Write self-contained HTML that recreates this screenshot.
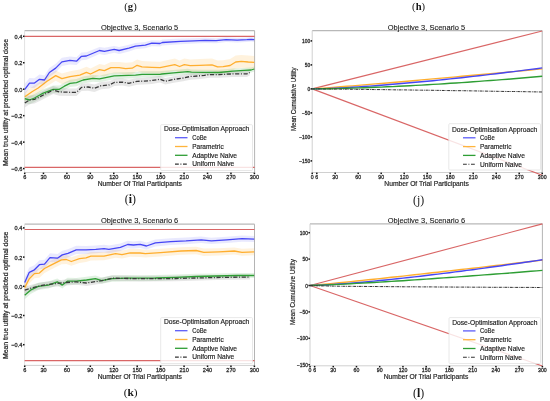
<!DOCTYPE html>
<html><head><meta charset="utf-8"><style>
html,body{margin:0;padding:0;background:#fff;width:550px;height:401px;overflow:hidden}
svg{display:block;will-change:transform}
</style></head><body>
<svg width="550" height="401" viewBox="0 0 550 401">
<rect width="550" height="401" fill="white"/>
<text x="130.5" y="10.2" font-size="10.6" text-anchor="middle" fill="#161616" font-family='"Liberation Serif", serif'>(<tspan font-weight="bold">g</tspan>)</text>
<text x="418.6" y="10.1" font-size="10.6" text-anchor="middle" fill="#161616" font-family='"Liberation Serif", serif'>(<tspan font-weight="bold">h</tspan>)</text>
<text x="130.4" y="203.3" font-size="11.8" text-anchor="middle" fill="#161616" font-family='"Liberation Serif", serif'>(<tspan font-weight="bold">i</tspan>)</text>
<text x="418.6" y="203.7" font-size="11.8" text-anchor="middle" fill="#161616" font-family='"Liberation Serif", serif'>(<tspan font-weight="normal">j</tspan>)</text>
<text x="130.6" y="396.3" font-size="11.4" text-anchor="middle" fill="#161616" font-family='"Liberation Serif", serif'>(<tspan font-weight="bold">k</tspan>)</text>
<text x="418.6" y="396.5" font-size="11.8" text-anchor="middle" fill="#161616" font-family='"Liberation Serif", serif'>(<tspan font-weight="bold">l</tspan>)</text>
<rect x="24.6" y="30.6" width="230.0" height="141.9" fill="white"/>
<line x1="24.6" y1="30.6" x2="254.6" y2="30.6" stroke="#b8b8b8" stroke-width="1.2"/>
<line x1="254.6" y1="30.6" x2="254.6" y2="172.5" stroke="#b4b4b4" stroke-width="1"/>
<line x1="24.6" y1="30.6" x2="24.6" y2="172.5" stroke="#e2e2e2" stroke-width="1"/>
<line x1="24.6" y1="172.5" x2="254.6" y2="172.5" stroke="#d0d0d0" stroke-width="1"/>
<line x1="24.6" y1="36.4" x2="254.6" y2="36.4" stroke="#d96666" stroke-width="1.15"/>
<line x1="24.6" y1="167.4" x2="254.6" y2="167.4" stroke="#d96666" stroke-width="1.15"/>
<polygon points="24.8,92.3 32.0,86.9 38.2,83.0 47.0,76.1 55.7,70.4 61.9,73.4 70.0,71.3 79.8,69.6 86.4,66.8 90.5,68.4 99.5,64.1 104.4,65.0 110.9,62.0 119.1,61.9 125.6,62.8 132.2,62.3 137.1,59.4 142.0,61.0 151.8,61.4 160.0,61.7 174.8,58.6 179.6,60.4 184.3,58.5 190.2,59.5 199.6,59.1 212.0,58.5 217.6,60.6 223.2,60.2 230.1,59.1 235.7,55.6 241.3,54.9 248.3,55.5 254.3,55.9 254.3,68.9 248.3,68.5 241.3,67.7 235.7,68.4 230.1,71.9 223.2,73.0 217.6,73.2 212.0,71.1 199.6,71.5 190.2,71.9 184.3,70.9 179.6,72.6 174.8,70.8 160.0,73.7 151.8,73.4 142.0,72.8 137.1,71.2 132.2,74.1 125.6,74.4 119.1,73.5 110.9,73.4 104.4,76.4 99.5,75.3 90.5,79.6 86.4,77.8 79.8,80.6 70.0,82.1 61.9,84.0 55.7,80.8 47.0,86.3 38.2,93.0 32.0,96.7 24.8,101.3" fill="#ffae2e" fill-opacity="0.16"/>
<polygon points="24.8,83.8 29.5,78.1 34.5,78.3 39.5,74.6 44.5,75.5 49.4,68.1 55.7,63.8 61.9,57.7 70.0,56.4 76.5,57.3 81.5,52.4 86.4,52.2 99.5,46.9 104.4,47.8 114.2,46.0 119.1,47.1 128.9,44.8 135.5,42.9 145.3,42.0 151.8,40.2 160.0,40.5 162.3,39.6 180.5,38.6 194.0,38.2 205.0,37.8 216.2,38.2 226.0,37.3 237.1,37.8 246.9,37.4 251.1,37.1 254.3,37.5 254.3,41.9 251.1,41.5 246.9,42.0 237.1,42.4 226.0,42.1 216.2,43.2 205.0,43.0 194.0,43.6 180.5,44.2 162.3,45.4 160.0,46.5 151.8,46.2 145.3,48.2 135.5,49.3 128.9,51.4 119.1,53.9 114.2,52.8 104.4,55.0 99.5,54.1 86.4,59.8 81.5,60.2 76.5,65.1 70.0,64.4 61.9,66.1 55.7,72.4 49.4,76.9 44.5,84.5 39.5,84.0 34.5,87.9 29.5,88.1 24.8,94.8" fill="#4646f5" fill-opacity="0.12"/>
<polygon points="24.8,94.2 29.5,95.8 34.5,93.9 42.0,89.7 53.2,85.5 59.4,85.6 64.4,82.5 70.0,79.7 76.5,79.0 83.1,76.5 92.9,75.0 99.5,75.5 114.2,72.6 135.5,72.0 142.0,71.2 160.0,71.3 161.8,71.0 173.6,69.9 187.8,68.8 191.4,69.4 203.2,69.7 219.0,69.8 232.9,68.5 244.1,67.9 251.1,67.5 254.3,66.5 254.3,71.5 251.1,72.5 244.1,72.9 232.9,73.7 219.0,75.2 203.2,75.1 191.4,75.0 187.8,74.4 173.6,75.7 161.8,77.0 160.0,77.3 142.0,77.4 135.5,78.2 114.2,79.2 99.5,82.3 92.9,81.8 83.1,83.5 76.5,86.2 70.0,86.9 64.4,89.9 59.4,93.0 53.2,93.1 42.0,97.7 34.5,102.1 29.5,104.2 24.8,103.2" fill="#2e9e34" fill-opacity="0.14"/>
<polygon points="24.8,98.5 29.5,95.7 34.5,95.2 40.7,92.2 53.2,86.0 59.4,88.0 70.0,88.5 76.5,88.5 81.5,83.7 88.0,83.3 94.5,84.5 101.1,82.1 109.3,81.3 114.2,78.9 122.4,78.6 128.9,79.8 137.1,77.9 143.6,77.8 151.8,77.1 160.0,75.9 165.4,78.0 173.6,76.2 183.1,74.8 190.2,73.3 197.3,72.8 204.4,72.2 209.1,71.5 219.0,71.5 232.9,70.8 246.9,70.9 249.7,69.5 249.7,75.5 246.9,76.9 232.9,77.0 219.0,77.7 209.1,77.7 204.4,78.6 197.3,79.2 190.2,79.7 183.1,81.2 173.6,82.8 165.4,84.6 160.0,82.5 151.8,83.9 143.6,84.6 137.1,84.7 128.9,86.8 122.4,85.6 114.2,86.1 109.3,88.5 101.1,89.3 94.5,91.9 88.0,90.7 81.5,91.1 76.5,96.1 70.0,96.1 59.4,95.8 53.2,94.0 40.7,100.4 34.5,103.6 29.5,104.3 24.8,107.5" fill="#888" fill-opacity="0.2"/>
<polyline points="24.8,96.8 32.0,91.8 38.2,88.0 47.0,81.2 55.7,75.6 61.9,78.7 70.0,76.7 79.8,75.1 86.4,72.3 90.5,74.0 99.5,69.7 104.4,70.7 110.9,67.7 119.1,67.7 125.6,68.6 132.2,68.2 137.1,65.3 142.0,66.9 151.8,67.4 160.0,67.7 174.8,64.7 179.6,66.5 184.3,64.7 190.2,65.7 199.6,65.3 212.0,64.8 217.6,66.9 223.2,66.6 230.1,65.5 235.7,62.0 241.3,61.3 248.3,62.0 254.3,62.4" fill="none" stroke="#ffae2e" stroke-width="1.3" stroke-linejoin="round"/>
<polyline points="24.8,98.7 29.5,100.0 34.5,98.0 42.0,93.7 53.2,89.3 59.4,89.3 64.4,86.2 70.0,83.3 76.5,82.6 83.1,80.0 92.9,78.4 99.5,78.9 114.2,75.9 135.5,75.1 142.0,74.3 160.0,74.3 161.8,74.0 173.6,72.8 187.8,71.6 191.4,72.2 203.2,72.4 219.0,72.5 232.9,71.1 244.1,70.4 251.1,70.0 254.3,69.0" fill="none" stroke="#2e9e34" stroke-width="1.3" stroke-linejoin="round"/>
<polyline points="24.8,103.0 29.5,100.0 34.5,99.4 40.7,96.3 53.2,90.0 59.4,91.9 70.0,92.3 76.5,92.3 81.5,87.4 88.0,87.0 94.5,88.2 101.1,85.7 109.3,84.9 114.2,82.5 122.4,82.1 128.9,83.3 137.1,81.3 143.6,81.2 151.8,80.5 160.0,79.2 165.4,81.3 173.6,79.5 183.1,78.0 190.2,76.5 197.3,76.0 204.4,75.4 209.1,74.6 219.0,74.6 232.9,73.9 246.9,73.9 249.7,72.5" fill="none" stroke="#3a3a3a" stroke-width="1.3" stroke-dasharray="4.2,1.6,1,1.6" stroke-linejoin="round"/>
<polyline points="24.8,89.3 29.5,83.1 34.5,83.1 39.5,79.3 44.5,80.0 49.4,72.5 55.7,68.1 61.9,61.9 70.0,60.4 76.5,61.2 81.5,56.3 86.4,56.0 99.5,50.5 104.4,51.4 114.2,49.4 119.1,50.5 128.9,48.1 135.5,46.1 145.3,45.1 151.8,43.2 160.0,43.5 162.3,42.5 180.5,41.4 194.0,40.9 205.0,40.4 216.2,40.7 226.0,39.7 237.1,40.1 246.9,39.7 251.1,39.3 254.3,39.7" fill="none" stroke="#4646f5" stroke-width="1.3" stroke-linejoin="round"/>
<rect x="160.7" y="124.7" width="91.80000000000001" height="45.8" fill="white" fill-opacity="0.82" stroke="#e2e2e2" stroke-width="0.8" rx="1"/>
<text x="206.6" y="131.4" font-size="6.8" text-anchor="middle" fill="#222" font-family='"Liberation Sans", sans-serif' font-weight="normal" stroke="#222" stroke-width="0.16" textLength="85.3" lengthAdjust="spacingAndGlyphs" >Dose-Optimisation Approach</text>
<line x1="175" y1="137.7" x2="187.5" y2="137.7" stroke="#5c5cf8" stroke-width="1.3"/>
<text x="192.2" y="140.0" font-size="6.8" text-anchor="start" fill="#222" font-family='"Liberation Sans", sans-serif' font-weight="normal" stroke="#222" stroke-width="0.16" textLength="14.7" lengthAdjust="spacingAndGlyphs" >CoBe</text>
<line x1="175" y1="146.5" x2="187.5" y2="146.5" stroke="#ffb43c" stroke-width="1.3"/>
<text x="192.2" y="148.8" font-size="6.8" text-anchor="start" fill="#222" font-family='"Liberation Sans", sans-serif' font-weight="normal" stroke="#222" stroke-width="0.16" textLength="31.5" lengthAdjust="spacingAndGlyphs" >Parametric</text>
<line x1="175" y1="155.29999999999998" x2="187.5" y2="155.29999999999998" stroke="#2e9e34" stroke-width="1.3"/>
<text x="192.2" y="157.6" font-size="6.8" text-anchor="start" fill="#222" font-family='"Liberation Sans", sans-serif' font-weight="normal" stroke="#222" stroke-width="0.16" textLength="44.9" lengthAdjust="spacingAndGlyphs" >Adaptive Naive</text>
<line x1="175" y1="164.1" x2="187.5" y2="164.1" stroke="#333" stroke-width="1.1" stroke-dasharray="3.8,1.6,1,1.6"/>
<text x="192.2" y="166.4" font-size="6.8" text-anchor="start" fill="#222" font-family='"Liberation Sans", sans-serif' font-weight="normal" stroke="#222" stroke-width="0.16" textLength="42" lengthAdjust="spacingAndGlyphs" >Uniform Naive</text>
<rect x="23.95" y="172.60" width="1.5" height="1.5" fill="#111"/>
<text x="24.7" y="178.9" font-size="5.6" text-anchor="middle" fill="#2a2a2a" font-family='"Liberation Sans", sans-serif' font-weight="normal" stroke="#2a2a2a" stroke-width="0.26" >6</text>
<rect x="42.70" y="172.60" width="1.5" height="1.5" fill="#111"/>
<text x="43.5" y="178.9" font-size="5.6" text-anchor="middle" fill="#2a2a2a" font-family='"Liberation Sans", sans-serif' font-weight="normal" stroke="#2a2a2a" stroke-width="0.26" >30</text>
<rect x="66.14" y="172.60" width="1.5" height="1.5" fill="#111"/>
<text x="66.9" y="178.9" font-size="5.6" text-anchor="middle" fill="#2a2a2a" font-family='"Liberation Sans", sans-serif' font-weight="normal" stroke="#2a2a2a" stroke-width="0.26" >60</text>
<rect x="89.58" y="172.60" width="1.5" height="1.5" fill="#111"/>
<text x="90.3" y="178.9" font-size="5.6" text-anchor="middle" fill="#2a2a2a" font-family='"Liberation Sans", sans-serif' font-weight="normal" stroke="#2a2a2a" stroke-width="0.26" >90</text>
<rect x="113.02" y="172.60" width="1.5" height="1.5" fill="#111"/>
<text x="113.8" y="178.9" font-size="5.6" text-anchor="middle" fill="#2a2a2a" font-family='"Liberation Sans", sans-serif' font-weight="normal" stroke="#2a2a2a" stroke-width="0.26" >120</text>
<rect x="136.46" y="172.60" width="1.5" height="1.5" fill="#111"/>
<text x="137.2" y="178.9" font-size="5.6" text-anchor="middle" fill="#2a2a2a" font-family='"Liberation Sans", sans-serif' font-weight="normal" stroke="#2a2a2a" stroke-width="0.26" >150</text>
<rect x="159.89" y="172.60" width="1.5" height="1.5" fill="#111"/>
<text x="160.6" y="178.9" font-size="5.6" text-anchor="middle" fill="#2a2a2a" font-family='"Liberation Sans", sans-serif' font-weight="normal" stroke="#2a2a2a" stroke-width="0.26" >180</text>
<rect x="183.33" y="172.60" width="1.5" height="1.5" fill="#111"/>
<text x="184.1" y="178.9" font-size="5.6" text-anchor="middle" fill="#2a2a2a" font-family='"Liberation Sans", sans-serif' font-weight="normal" stroke="#2a2a2a" stroke-width="0.26" >210</text>
<rect x="206.77" y="172.60" width="1.5" height="1.5" fill="#111"/>
<text x="207.5" y="178.9" font-size="5.6" text-anchor="middle" fill="#2a2a2a" font-family='"Liberation Sans", sans-serif' font-weight="normal" stroke="#2a2a2a" stroke-width="0.26" >240</text>
<rect x="230.21" y="172.60" width="1.5" height="1.5" fill="#111"/>
<text x="231.0" y="178.9" font-size="5.6" text-anchor="middle" fill="#2a2a2a" font-family='"Liberation Sans", sans-serif' font-weight="normal" stroke="#2a2a2a" stroke-width="0.26" >270</text>
<rect x="253.65" y="172.60" width="1.5" height="1.5" fill="#111"/>
<text x="254.4" y="178.9" font-size="5.6" text-anchor="middle" fill="#2a2a2a" font-family='"Liberation Sans", sans-serif' font-weight="normal" stroke="#2a2a2a" stroke-width="0.26" >300</text>
<rect x="23.00" y="35.53" width="1.5" height="1.5" fill="#111"/>
<text x="22.4" y="38.7" font-size="5.6" text-anchor="end" fill="#2a2a2a" font-family='"Liberation Sans", sans-serif' font-weight="normal" stroke="#2a2a2a" stroke-width="0.26" >0.4</text>
<rect x="23.00" y="61.99" width="1.5" height="1.5" fill="#111"/>
<text x="22.4" y="65.1" font-size="5.6" text-anchor="end" fill="#2a2a2a" font-family='"Liberation Sans", sans-serif' font-weight="normal" stroke="#2a2a2a" stroke-width="0.26" >0.2</text>
<rect x="23.00" y="88.45" width="1.5" height="1.5" fill="#111"/>
<text x="22.4" y="91.6" font-size="5.6" text-anchor="end" fill="#2a2a2a" font-family='"Liberation Sans", sans-serif' font-weight="normal" stroke="#2a2a2a" stroke-width="0.26" >0.0</text>
<rect x="23.00" y="114.91" width="1.5" height="1.5" fill="#111"/>
<text x="22.4" y="118.1" font-size="5.6" text-anchor="end" fill="#2a2a2a" font-family='"Liberation Sans", sans-serif' font-weight="normal" stroke="#2a2a2a" stroke-width="0.26" >−0.2</text>
<rect x="23.00" y="141.37" width="1.5" height="1.5" fill="#111"/>
<text x="22.4" y="144.5" font-size="5.6" text-anchor="end" fill="#2a2a2a" font-family='"Liberation Sans", sans-serif' font-weight="normal" stroke="#2a2a2a" stroke-width="0.26" >−0.4</text>
<rect x="23.00" y="167.83" width="1.5" height="1.5" fill="#111"/>
<text x="22.4" y="171.0" font-size="5.6" text-anchor="end" fill="#2a2a2a" font-family='"Liberation Sans", sans-serif' font-weight="normal" stroke="#2a2a2a" stroke-width="0.26" >−0.6</text>
<text x="139.6" y="29.5" font-size="8.0" text-anchor="middle" fill="#222" font-family='"Liberation Sans", sans-serif' font-weight="normal" stroke="#222" stroke-width="0.12" textLength="77.4" lengthAdjust="spacingAndGlyphs" >Objective 3, Scenario 5</text>
<text x="139.8" y="185.6" font-size="6.8" text-anchor="middle" fill="#222" font-family='"Liberation Sans", sans-serif' font-weight="normal" stroke="#222" stroke-width="0.18" textLength="84.2" lengthAdjust="spacingAndGlyphs" >Number Of Trial Participants</text>
<text x="0.0" y="0.0" font-size="6.5" text-anchor="middle" fill="#222" font-family='"Liberation Sans", sans-serif' font-weight="normal" stroke="#222" stroke-width="0.18" textLength="127" lengthAdjust="spacingAndGlyphs" transform="translate(7.6,102.5) rotate(-90)">Mean true utility at predicted optimal dose</text>
<rect x="24.6" y="224.2" width="229.9" height="141.2" fill="white"/>
<line x1="24.6" y1="224.2" x2="254.5" y2="224.2" stroke="#b8b8b8" stroke-width="1.2"/>
<line x1="254.5" y1="224.2" x2="254.5" y2="365.4" stroke="#b4b4b4" stroke-width="1"/>
<line x1="24.6" y1="224.2" x2="24.6" y2="365.4" stroke="#e2e2e2" stroke-width="1"/>
<line x1="24.6" y1="365.4" x2="254.5" y2="365.4" stroke="#d0d0d0" stroke-width="1"/>
<line x1="24.6" y1="229.5" x2="254.5" y2="229.5" stroke="#d96666" stroke-width="1.15"/>
<line x1="24.6" y1="360.6" x2="254.5" y2="360.6" stroke="#d96666" stroke-width="1.15"/>
<polygon points="24.7,282.6 29.3,273.9 34.4,268.9 39.4,268.5 44.5,263.9 50.0,261.1 61.5,255.4 66.4,255.1 71.3,257.2 79.5,254.4 86.0,253.7 90.9,252.0 104.0,252.1 115.5,249.5 122.0,250.6 130.2,248.8 140.0,249.1 145.3,249.7 160.5,248.8 180.9,247.2 196.2,246.8 203.8,248.6 219.0,248.2 234.3,247.4 242.0,248.8 254.2,248.3 254.2,255.3 242.0,255.8 234.3,254.6 219.0,255.4 203.8,256.0 196.2,254.2 180.9,254.8 160.5,256.4 145.3,257.5 140.0,256.9 130.2,256.8 122.0,258.6 115.5,257.7 104.0,260.3 90.9,260.4 86.0,262.1 79.5,263.0 71.3,265.8 66.4,263.9 61.5,264.2 50.0,270.1 44.5,273.1 39.4,277.7 34.4,278.3 29.3,283.5 24.7,292.6" fill="#ffae2e" fill-opacity="0.16"/>
<polygon points="24.7,277.5 29.3,267.6 34.4,265.2 39.4,260.2 44.5,259.8 50.0,253.3 57.4,254.0 62.3,250.7 68.0,249.2 76.2,245.8 86.0,245.9 95.8,245.5 104.0,244.8 108.9,245.6 120.4,243.6 127.7,240.8 133.5,241.4 140.2,240.8 146.5,242.5 155.4,239.4 170.7,238.2 186.0,237.6 201.2,236.6 211.4,237.7 226.7,236.7 242.0,235.5 254.2,236.1 254.2,242.1 242.0,241.7 226.7,242.9 211.4,244.1 201.2,243.0 186.0,244.2 170.7,245.0 155.4,246.4 146.5,249.5 140.2,248.0 133.5,248.6 127.7,248.2 120.4,251.0 108.9,253.2 104.0,252.4 95.8,253.3 86.0,253.9 76.2,254.0 68.0,257.4 62.3,259.1 57.4,262.4 50.0,261.9 44.5,268.6 39.4,269.2 34.4,274.4 29.3,277.0 24.7,287.5" fill="#4646f5" fill-opacity="0.12"/>
<polygon points="24.7,291.2 30.5,286.4 38.2,282.7 48.3,281.6 57.3,278.4 62.3,281.7 67.4,277.8 76.3,277.9 86.5,276.8 95.4,275.5 101.8,277.6 112.0,275.6 127.2,275.2 155.4,275.1 175.8,274.5 196.2,273.8 216.5,273.4 236.9,272.9 254.2,273.0 254.2,278.0 236.9,278.1 216.5,278.6 196.2,279.2 175.8,280.1 155.4,280.9 127.2,281.2 112.0,281.8 101.8,283.8 95.4,281.9 86.5,283.2 76.3,284.5 67.4,284.6 62.3,288.5 57.3,285.2 48.3,288.6 38.2,289.9 30.5,294.0 24.7,299.2" fill="#2e9e34" fill-opacity="0.14"/>
<polygon points="24.7,286.7 33.1,284.3 43.3,281.9 53.4,280.7 66.2,279.4 76.3,278.8 86.5,280.0 101.8,277.8 112.0,275.3 140.0,275.9 175.8,275.8 216.5,274.9 250.0,274.5 250.0,279.5 216.5,280.1 175.8,281.2 140.0,281.5 112.0,281.1 101.8,283.6 86.5,286.0 76.3,284.8 66.2,285.6 53.4,286.9 43.3,288.3 33.1,290.9 24.7,293.7" fill="#888" fill-opacity="0.2"/>
<polyline points="24.7,287.6 29.3,278.7 34.4,273.6 39.4,273.1 44.5,268.5 50.0,265.6 61.5,259.8 66.4,259.5 71.3,261.5 79.5,258.7 86.0,257.9 90.9,256.2 104.0,256.2 115.5,253.6 122.0,254.6 130.2,252.8 140.0,253.0 145.3,253.6 160.5,252.6 180.9,251.0 196.2,250.5 203.8,252.3 219.0,251.8 234.3,251.0 242.0,252.3 254.2,251.8" fill="none" stroke="#ffae2e" stroke-width="1.3" stroke-linejoin="round"/>
<polyline points="24.7,295.2 30.5,290.2 38.2,286.3 48.3,285.1 57.3,281.8 62.3,285.1 67.4,281.2 76.3,281.2 86.5,280.0 95.4,278.7 101.8,280.7 112.0,278.7 127.2,278.2 155.4,278.0 175.8,277.3 196.2,276.5 216.5,276.0 236.9,275.5 254.2,275.5" fill="none" stroke="#2e9e34" stroke-width="1.3" stroke-linejoin="round"/>
<polyline points="24.7,290.2 33.1,287.6 43.3,285.1 53.4,283.8 66.2,282.5 76.3,281.8 86.5,283.0 101.8,280.7 112.0,278.2 140.0,278.7 175.8,278.5 216.5,277.5 250.0,277.0" fill="none" stroke="#3a3a3a" stroke-width="1.3" stroke-dasharray="4.2,1.6,1,1.6" stroke-linejoin="round"/>
<polyline points="24.7,282.5 29.3,272.3 34.4,269.8 39.4,264.7 44.5,264.2 50.0,257.6 57.4,258.2 62.3,254.9 68.0,253.3 76.2,249.9 86.0,249.9 95.8,249.4 104.0,248.6 108.9,249.4 120.4,247.3 127.7,244.5 133.5,245.0 140.2,244.4 146.5,246.0 155.4,242.9 170.7,241.6 186.0,240.9 201.2,239.8 211.4,240.9 226.7,239.8 242.0,238.6 254.2,239.1" fill="none" stroke="#4646f5" stroke-width="1.3" stroke-linejoin="round"/>
<rect x="160.7" y="317.6" width="91.80000000000001" height="45.89999999999998" fill="white" fill-opacity="0.82" stroke="#e2e2e2" stroke-width="0.8" rx="1"/>
<text x="206.6" y="324.4" font-size="6.8" text-anchor="middle" fill="#222" font-family='"Liberation Sans", sans-serif' font-weight="normal" stroke="#222" stroke-width="0.16" textLength="85.3" lengthAdjust="spacingAndGlyphs" >Dose-Optimisation Approach</text>
<line x1="175" y1="330.7" x2="187.5" y2="330.7" stroke="#5c5cf8" stroke-width="1.3"/>
<text x="192.2" y="333.0" font-size="6.8" text-anchor="start" fill="#222" font-family='"Liberation Sans", sans-serif' font-weight="normal" stroke="#222" stroke-width="0.16" textLength="14.7" lengthAdjust="spacingAndGlyphs" >CoBe</text>
<line x1="175" y1="339.5" x2="187.5" y2="339.5" stroke="#ffb43c" stroke-width="1.3"/>
<text x="192.2" y="341.8" font-size="6.8" text-anchor="start" fill="#222" font-family='"Liberation Sans", sans-serif' font-weight="normal" stroke="#222" stroke-width="0.16" textLength="31.5" lengthAdjust="spacingAndGlyphs" >Parametric</text>
<line x1="175" y1="348.3" x2="187.5" y2="348.3" stroke="#2e9e34" stroke-width="1.3"/>
<text x="192.2" y="350.6" font-size="6.8" text-anchor="start" fill="#222" font-family='"Liberation Sans", sans-serif' font-weight="normal" stroke="#222" stroke-width="0.16" textLength="44.9" lengthAdjust="spacingAndGlyphs" >Adaptive Naive</text>
<line x1="175" y1="357.09999999999997" x2="187.5" y2="357.09999999999997" stroke="#333" stroke-width="1.1" stroke-dasharray="3.8,1.6,1,1.6"/>
<text x="192.2" y="359.4" font-size="6.8" text-anchor="start" fill="#222" font-family='"Liberation Sans", sans-serif' font-weight="normal" stroke="#222" stroke-width="0.16" textLength="42" lengthAdjust="spacingAndGlyphs" >Uniform Naive</text>
<rect x="23.95" y="365.50" width="1.5" height="1.5" fill="#111"/>
<text x="24.7" y="371.8" font-size="5.6" text-anchor="middle" fill="#2a2a2a" font-family='"Liberation Sans", sans-serif' font-weight="normal" stroke="#2a2a2a" stroke-width="0.26" >6</text>
<rect x="42.70" y="365.50" width="1.5" height="1.5" fill="#111"/>
<text x="43.5" y="371.8" font-size="5.6" text-anchor="middle" fill="#2a2a2a" font-family='"Liberation Sans", sans-serif' font-weight="normal" stroke="#2a2a2a" stroke-width="0.26" >30</text>
<rect x="66.14" y="365.50" width="1.5" height="1.5" fill="#111"/>
<text x="66.9" y="371.8" font-size="5.6" text-anchor="middle" fill="#2a2a2a" font-family='"Liberation Sans", sans-serif' font-weight="normal" stroke="#2a2a2a" stroke-width="0.26" >60</text>
<rect x="89.58" y="365.50" width="1.5" height="1.5" fill="#111"/>
<text x="90.3" y="371.8" font-size="5.6" text-anchor="middle" fill="#2a2a2a" font-family='"Liberation Sans", sans-serif' font-weight="normal" stroke="#2a2a2a" stroke-width="0.26" >90</text>
<rect x="113.02" y="365.50" width="1.5" height="1.5" fill="#111"/>
<text x="113.8" y="371.8" font-size="5.6" text-anchor="middle" fill="#2a2a2a" font-family='"Liberation Sans", sans-serif' font-weight="normal" stroke="#2a2a2a" stroke-width="0.26" >120</text>
<rect x="136.46" y="365.50" width="1.5" height="1.5" fill="#111"/>
<text x="137.2" y="371.8" font-size="5.6" text-anchor="middle" fill="#2a2a2a" font-family='"Liberation Sans", sans-serif' font-weight="normal" stroke="#2a2a2a" stroke-width="0.26" >150</text>
<rect x="159.89" y="365.50" width="1.5" height="1.5" fill="#111"/>
<text x="160.6" y="371.8" font-size="5.6" text-anchor="middle" fill="#2a2a2a" font-family='"Liberation Sans", sans-serif' font-weight="normal" stroke="#2a2a2a" stroke-width="0.26" >180</text>
<rect x="183.33" y="365.50" width="1.5" height="1.5" fill="#111"/>
<text x="184.1" y="371.8" font-size="5.6" text-anchor="middle" fill="#2a2a2a" font-family='"Liberation Sans", sans-serif' font-weight="normal" stroke="#2a2a2a" stroke-width="0.26" >210</text>
<rect x="206.77" y="365.50" width="1.5" height="1.5" fill="#111"/>
<text x="207.5" y="371.8" font-size="5.6" text-anchor="middle" fill="#2a2a2a" font-family='"Liberation Sans", sans-serif' font-weight="normal" stroke="#2a2a2a" stroke-width="0.26" >240</text>
<rect x="230.21" y="365.50" width="1.5" height="1.5" fill="#111"/>
<text x="231.0" y="371.8" font-size="5.6" text-anchor="middle" fill="#2a2a2a" font-family='"Liberation Sans", sans-serif' font-weight="normal" stroke="#2a2a2a" stroke-width="0.26" >270</text>
<rect x="253.65" y="365.50" width="1.5" height="1.5" fill="#111"/>
<text x="254.4" y="371.8" font-size="5.6" text-anchor="middle" fill="#2a2a2a" font-family='"Liberation Sans", sans-serif' font-weight="normal" stroke="#2a2a2a" stroke-width="0.26" >300</text>
<rect x="23.00" y="227.15" width="1.5" height="1.5" fill="#111"/>
<text x="22.4" y="230.3" font-size="5.6" text-anchor="end" fill="#2a2a2a" font-family='"Liberation Sans", sans-serif' font-weight="normal" stroke="#2a2a2a" stroke-width="0.26" >0.4</text>
<rect x="23.00" y="256.35" width="1.5" height="1.5" fill="#111"/>
<text x="22.4" y="259.5" font-size="5.6" text-anchor="end" fill="#2a2a2a" font-family='"Liberation Sans", sans-serif' font-weight="normal" stroke="#2a2a2a" stroke-width="0.26" >0.2</text>
<rect x="23.00" y="285.55" width="1.5" height="1.5" fill="#111"/>
<text x="22.4" y="288.7" font-size="5.6" text-anchor="end" fill="#2a2a2a" font-family='"Liberation Sans", sans-serif' font-weight="normal" stroke="#2a2a2a" stroke-width="0.26" >0.0</text>
<rect x="23.00" y="314.75" width="1.5" height="1.5" fill="#111"/>
<text x="22.4" y="317.9" font-size="5.6" text-anchor="end" fill="#2a2a2a" font-family='"Liberation Sans", sans-serif' font-weight="normal" stroke="#2a2a2a" stroke-width="0.26" >−0.2</text>
<rect x="23.00" y="343.95" width="1.5" height="1.5" fill="#111"/>
<text x="22.4" y="347.1" font-size="5.6" text-anchor="end" fill="#2a2a2a" font-family='"Liberation Sans", sans-serif' font-weight="normal" stroke="#2a2a2a" stroke-width="0.26" >−0.4</text>
<text x="139.6" y="222.5" font-size="8.0" text-anchor="middle" fill="#222" font-family='"Liberation Sans", sans-serif' font-weight="normal" stroke="#222" stroke-width="0.12" textLength="77.4" lengthAdjust="spacingAndGlyphs" >Objective 3, Scenario 6</text>
<text x="139.8" y="378.6" font-size="6.8" text-anchor="middle" fill="#222" font-family='"Liberation Sans", sans-serif' font-weight="normal" stroke="#222" stroke-width="0.18" textLength="84.2" lengthAdjust="spacingAndGlyphs" >Number Of Trial Participants</text>
<text x="0.0" y="0.0" font-size="6.5" text-anchor="middle" fill="#222" font-family='"Liberation Sans", sans-serif' font-weight="normal" stroke="#222" stroke-width="0.18" textLength="127.5" lengthAdjust="spacingAndGlyphs" transform="translate(7.6,295.3) rotate(-90)">Mean true utility at predicted optimal dose</text>
<rect x="312.2" y="30.7" width="230.00000000000006" height="141.8" fill="white"/>
<line x1="312.2" y1="30.7" x2="542.2" y2="30.7" stroke="#b8b8b8" stroke-width="1.2"/>
<line x1="542.2" y1="30.7" x2="542.2" y2="172.5" stroke="#b4b4b4" stroke-width="1"/>
<line x1="312.2" y1="30.7" x2="312.2" y2="172.5" stroke="#d0d0d0" stroke-width="1"/>
<line x1="312.2" y1="172.5" x2="542.2" y2="172.5" stroke="#d0d0d0" stroke-width="1"/>
<line x1="312.2" y1="88.9" x2="542.2" y2="31.0" stroke="#d96666" stroke-width="1.15"/>
<line x1="312.2" y1="88.9" x2="542.2" y2="175.3" stroke="#d96666" stroke-width="1.15"/>
<polyline points="312.2,88.9 317.9,88.5 323.7,88.1 329.4,87.7 335.2,87.2 340.9,86.8 346.7,86.3 352.4,85.9 358.2,85.4 363.9,84.9 369.7,84.4 375.4,83.9 381.2,83.5 387.0,83.0 392.7,82.5 398.5,82.0 404.2,81.5 410.0,81.0 415.7,80.5 421.5,79.9 427.2,79.4 433.0,78.9 438.7,78.4 444.5,77.9 450.2,77.4 456.0,76.9 461.7,76.3 467.5,75.8 473.2,75.3 479.0,74.8 484.7,74.2 490.5,73.7 496.2,73.2 502.0,72.7 507.7,72.1 513.5,71.6 519.2,71.1 525.0,70.5 530.7,70.0 536.5,69.4 542.2,68.9" fill="none" stroke="#ffae2e" stroke-width="1.4"/>
<polyline points="312.2,88.9 317.9,88.8 323.7,88.6 329.4,88.4 335.2,88.2 340.9,87.9 346.7,87.6 352.4,87.2 358.2,86.9 363.9,86.5 369.7,86.1 375.4,85.7 381.2,85.2 387.0,84.8 392.7,84.3 398.5,83.8 404.2,83.3 410.0,82.8 415.7,82.3 421.5,81.8 427.2,81.2 433.0,80.7 438.7,80.1 444.5,79.5 450.2,78.9 456.0,78.3 461.7,77.7 467.5,77.0 473.2,76.4 479.0,75.7 484.7,75.1 490.5,74.4 496.2,73.7 502.0,73.0 507.7,72.3 513.5,71.6 519.2,70.9 525.0,70.1 530.7,69.4 536.5,68.7 542.2,67.9" fill="none" stroke="#4646f5" stroke-width="1.4"/>
<polyline points="312.2,88.9 317.9,88.9 323.7,88.8 329.4,88.7 335.2,88.6 340.9,88.4 346.7,88.3 352.4,88.1 358.2,87.9 363.9,87.7 369.7,87.5 375.4,87.3 381.2,87.1 387.0,86.8 392.7,86.6 398.5,86.3 404.2,86.0 410.0,85.7 415.7,85.4 421.5,85.1 427.2,84.7 433.0,84.4 438.7,84.1 444.5,83.7 450.2,83.3 456.0,83.0 461.7,82.6 467.5,82.2 473.2,81.8 479.0,81.4 484.7,80.9 490.5,80.5 496.2,80.1 502.0,79.6 507.7,79.2 513.5,78.7 519.2,78.3 525.0,77.8 530.7,77.3 536.5,76.8 542.2,76.3" fill="none" stroke="#2e9e34" stroke-width="1.4"/>
<polyline points="312.2,88.9 317.9,88.9 323.7,89.0 329.4,89.0 335.2,89.1 340.9,89.2 346.7,89.2 352.4,89.3 358.2,89.3 363.9,89.4 369.7,89.5 375.4,89.6 381.2,89.6 387.0,89.7 392.7,89.8 398.5,89.9 404.2,89.9 410.0,90.0 415.7,90.1 421.5,90.2 427.2,90.2 433.0,90.3 438.7,90.4 444.5,90.5 450.2,90.6 456.0,90.7 461.7,90.7 467.5,90.8 473.2,90.9 479.0,91.0 484.7,91.1 490.5,91.2 496.2,91.3 502.0,91.4 507.7,91.5 513.5,91.5 519.2,91.6 525.0,91.7 530.7,91.8 536.5,91.9 542.2,92.0" fill="none" stroke="#333" stroke-width="1.0" stroke-dasharray="3,0.8,0.8,0.8"/>
<rect x="448.8" y="123.7" width="91.69999999999999" height="46.3" fill="white" fill-opacity="0.82" stroke="#e2e2e2" stroke-width="0.8" rx="1"/>
<text x="494.6" y="131.5" font-size="6.8" text-anchor="middle" fill="#222" font-family='"Liberation Sans", sans-serif' font-weight="normal" stroke="#222" stroke-width="0.16" textLength="85.3" lengthAdjust="spacingAndGlyphs" >Dose-Optimisation Approach</text>
<line x1="463" y1="137.79999999999998" x2="475.5" y2="137.79999999999998" stroke="#5c5cf8" stroke-width="1.3"/>
<text x="480.0" y="140.1" font-size="6.8" text-anchor="start" fill="#222" font-family='"Liberation Sans", sans-serif' font-weight="normal" stroke="#222" stroke-width="0.16" textLength="14.7" lengthAdjust="spacingAndGlyphs" >CoBe</text>
<line x1="463" y1="146.6" x2="475.5" y2="146.6" stroke="#ffb43c" stroke-width="1.3"/>
<text x="480.0" y="148.9" font-size="6.8" text-anchor="start" fill="#222" font-family='"Liberation Sans", sans-serif' font-weight="normal" stroke="#222" stroke-width="0.16" textLength="31.5" lengthAdjust="spacingAndGlyphs" >Parametric</text>
<line x1="463" y1="155.39999999999998" x2="475.5" y2="155.39999999999998" stroke="#2e9e34" stroke-width="1.3"/>
<text x="480.0" y="157.7" font-size="6.8" text-anchor="start" fill="#222" font-family='"Liberation Sans", sans-serif' font-weight="normal" stroke="#222" stroke-width="0.16" textLength="44.9" lengthAdjust="spacingAndGlyphs" >Adaptive Naive</text>
<line x1="463" y1="164.2" x2="475.5" y2="164.2" stroke="#333" stroke-width="1.1" stroke-dasharray="3.8,1.6,1,1.6"/>
<text x="480.0" y="166.5" font-size="6.8" text-anchor="start" fill="#222" font-family='"Liberation Sans", sans-serif' font-weight="normal" stroke="#222" stroke-width="0.16" textLength="42" lengthAdjust="spacingAndGlyphs" >Uniform Naive</text>
<rect x="311.45" y="172.60" width="1.5" height="1.5" fill="#111"/>
<text x="312.2" y="178.7" font-size="5.2" text-anchor="middle" fill="#2a2a2a" font-family='"Liberation Sans", sans-serif' font-weight="normal" stroke="#2a2a2a" stroke-width="0.26" >0</text>
<rect x="316.05" y="172.60" width="1.5" height="1.5" fill="#111"/>
<text x="316.8" y="178.7" font-size="5.2" text-anchor="middle" fill="#2a2a2a" font-family='"Liberation Sans", sans-serif' font-weight="normal" stroke="#2a2a2a" stroke-width="0.26" >6</text>
<rect x="334.45" y="172.60" width="1.5" height="1.5" fill="#111"/>
<text x="335.2" y="178.7" font-size="5.2" text-anchor="middle" fill="#2a2a2a" font-family='"Liberation Sans", sans-serif' font-weight="normal" stroke="#2a2a2a" stroke-width="0.26" >30</text>
<rect x="357.45" y="172.60" width="1.5" height="1.5" fill="#111"/>
<text x="358.2" y="178.7" font-size="5.2" text-anchor="middle" fill="#2a2a2a" font-family='"Liberation Sans", sans-serif' font-weight="normal" stroke="#2a2a2a" stroke-width="0.26" >60</text>
<rect x="380.45" y="172.60" width="1.5" height="1.5" fill="#111"/>
<text x="381.2" y="178.7" font-size="5.2" text-anchor="middle" fill="#2a2a2a" font-family='"Liberation Sans", sans-serif' font-weight="normal" stroke="#2a2a2a" stroke-width="0.26" >90</text>
<rect x="403.45" y="172.60" width="1.5" height="1.5" fill="#111"/>
<text x="404.2" y="178.7" font-size="5.2" text-anchor="middle" fill="#2a2a2a" font-family='"Liberation Sans", sans-serif' font-weight="normal" stroke="#2a2a2a" stroke-width="0.26" >120</text>
<rect x="426.45" y="172.60" width="1.5" height="1.5" fill="#111"/>
<text x="427.2" y="178.7" font-size="5.2" text-anchor="middle" fill="#2a2a2a" font-family='"Liberation Sans", sans-serif' font-weight="normal" stroke="#2a2a2a" stroke-width="0.26" >150</text>
<rect x="449.45" y="172.60" width="1.5" height="1.5" fill="#111"/>
<text x="450.2" y="178.7" font-size="5.2" text-anchor="middle" fill="#2a2a2a" font-family='"Liberation Sans", sans-serif' font-weight="normal" stroke="#2a2a2a" stroke-width="0.26" >180</text>
<rect x="472.45" y="172.60" width="1.5" height="1.5" fill="#111"/>
<text x="473.2" y="178.7" font-size="5.2" text-anchor="middle" fill="#2a2a2a" font-family='"Liberation Sans", sans-serif' font-weight="normal" stroke="#2a2a2a" stroke-width="0.26" >210</text>
<rect x="495.45" y="172.60" width="1.5" height="1.5" fill="#111"/>
<text x="496.2" y="178.7" font-size="5.2" text-anchor="middle" fill="#2a2a2a" font-family='"Liberation Sans", sans-serif' font-weight="normal" stroke="#2a2a2a" stroke-width="0.26" >240</text>
<rect x="518.45" y="172.60" width="1.5" height="1.5" fill="#111"/>
<text x="519.2" y="178.7" font-size="5.2" text-anchor="middle" fill="#2a2a2a" font-family='"Liberation Sans", sans-serif' font-weight="normal" stroke="#2a2a2a" stroke-width="0.26" >270</text>
<rect x="541.45" y="172.60" width="1.5" height="1.5" fill="#111"/>
<text x="542.2" y="178.7" font-size="5.2" text-anchor="middle" fill="#2a2a2a" font-family='"Liberation Sans", sans-serif' font-weight="normal" stroke="#2a2a2a" stroke-width="0.26" >300</text>
<rect x="310.60" y="40.15" width="1.5" height="1.5" fill="#111"/>
<text x="310.2" y="43.0" font-size="4.9" text-anchor="end" fill="#2a2a2a" font-family='"Liberation Sans", sans-serif' font-weight="normal" stroke="#2a2a2a" stroke-width="0.26" >100</text>
<rect x="310.60" y="64.15" width="1.5" height="1.5" fill="#111"/>
<text x="310.2" y="67.0" font-size="4.9" text-anchor="end" fill="#2a2a2a" font-family='"Liberation Sans", sans-serif' font-weight="normal" stroke="#2a2a2a" stroke-width="0.26" >50</text>
<rect x="310.60" y="88.15" width="1.5" height="1.5" fill="#111"/>
<text x="310.2" y="91.0" font-size="4.9" text-anchor="end" fill="#2a2a2a" font-family='"Liberation Sans", sans-serif' font-weight="normal" stroke="#2a2a2a" stroke-width="0.26" >0</text>
<rect x="310.60" y="112.15" width="1.5" height="1.5" fill="#111"/>
<text x="310.2" y="115.0" font-size="4.9" text-anchor="end" fill="#2a2a2a" font-family='"Liberation Sans", sans-serif' font-weight="normal" stroke="#2a2a2a" stroke-width="0.26" >−50</text>
<rect x="310.60" y="136.15" width="1.5" height="1.5" fill="#111"/>
<text x="310.2" y="139.0" font-size="4.9" text-anchor="end" fill="#2a2a2a" font-family='"Liberation Sans", sans-serif' font-weight="normal" stroke="#2a2a2a" stroke-width="0.26" >−100</text>
<rect x="310.60" y="160.15" width="1.5" height="1.5" fill="#111"/>
<text x="310.2" y="163.0" font-size="4.9" text-anchor="end" fill="#2a2a2a" font-family='"Liberation Sans", sans-serif' font-weight="normal" stroke="#2a2a2a" stroke-width="0.26" >−150</text>
<text x="426.5" y="29.5" font-size="8.0" text-anchor="middle" fill="#222" font-family='"Liberation Sans", sans-serif' font-weight="normal" stroke="#222" stroke-width="0.12" textLength="77.4" lengthAdjust="spacingAndGlyphs" >Objective 3, Scenario 5</text>
<text x="426.6" y="185.6" font-size="6.8" text-anchor="middle" fill="#222" font-family='"Liberation Sans", sans-serif' font-weight="normal" stroke="#222" stroke-width="0.18" textLength="84.5" lengthAdjust="spacingAndGlyphs" >Number Of Trial Participants</text>
<text x="0.0" y="0.0" font-size="6.8" text-anchor="middle" fill="#222" font-family='"Liberation Sans", sans-serif' font-weight="normal" stroke="#222" stroke-width="0.18" textLength="63.7" lengthAdjust="spacingAndGlyphs" transform="translate(296.0,99.2) rotate(-90)">Mean Cumulative Utility</text>
<rect x="310.0" y="223.8" width="232.39999999999998" height="142.0" fill="white"/>
<line x1="310.0" y1="223.8" x2="542.4" y2="223.8" stroke="#b8b8b8" stroke-width="1.2"/>
<line x1="542.4" y1="223.8" x2="542.4" y2="365.8" stroke="#b4b4b4" stroke-width="1"/>
<line x1="310.0" y1="223.8" x2="310.0" y2="365.8" stroke="#d0d0d0" stroke-width="1"/>
<line x1="310.0" y1="365.8" x2="542.4" y2="365.8" stroke="#d0d0d0" stroke-width="1"/>
<line x1="310.0" y1="285.5" x2="542.4" y2="223.9" stroke="#d96666" stroke-width="1.15"/>
<line x1="310.0" y1="285.5" x2="542.4" y2="366.0" stroke="#d96666" stroke-width="1.15"/>
<polyline points="310.0,285.5 315.8,285.0 321.6,284.5 327.4,284.0 333.2,283.4 339.1,282.8 344.9,282.2 350.7,281.6 356.5,281.0 362.3,280.4 368.1,279.8 373.9,279.2 379.7,278.6 385.5,278.0 391.3,277.3 397.1,276.7 403.0,276.1 408.8,275.4 414.6,274.8 420.4,274.1 426.2,273.5 432.0,272.8 437.8,272.2 443.6,271.5 449.4,270.9 455.2,270.2 461.1,269.5 466.9,268.9 472.7,268.2 478.5,267.6 484.3,266.9 490.1,266.2 495.9,265.5 501.7,264.9 507.5,264.2 513.3,263.5 519.2,262.8 525.0,262.2 530.8,261.5 536.6,260.8 542.4,260.1" fill="none" stroke="#ffae2e" stroke-width="1.4"/>
<polyline points="310.0,285.5 315.8,285.3 321.6,285.1 327.4,284.8 333.2,284.4 339.1,284.0 344.9,283.6 350.7,283.1 356.5,282.7 362.3,282.2 368.1,281.6 373.9,281.1 379.7,280.5 385.5,280.0 391.3,279.4 397.1,278.8 403.0,278.1 408.8,277.5 414.6,276.9 420.4,276.2 426.2,275.5 432.0,274.8 437.8,274.1 443.6,273.4 449.4,272.7 455.2,271.9 461.1,271.2 466.9,270.4 472.7,269.7 478.5,268.9 484.3,268.1 490.1,267.3 495.9,266.5 501.7,265.7 507.5,264.8 513.3,264.0 519.2,263.2 525.0,262.3 530.8,261.5 536.6,260.6 542.4,259.7" fill="none" stroke="#4646f5" stroke-width="1.4"/>
<polyline points="310.0,285.5 315.8,285.3 321.6,285.1 327.4,284.9 333.2,284.6 339.1,284.4 344.9,284.1 350.7,283.8 356.5,283.4 362.3,283.1 368.1,282.8 373.9,282.5 379.7,282.1 385.5,281.8 391.3,281.4 397.1,281.0 403.0,280.7 408.8,280.3 414.6,279.9 420.4,279.5 426.2,279.1 432.0,278.7 437.8,278.3 443.6,277.9 449.4,277.5 455.2,277.1 461.1,276.6 466.9,276.2 472.7,275.8 478.5,275.4 484.3,274.9 490.1,274.5 495.9,274.0 501.7,273.6 507.5,273.2 513.3,272.7 519.2,272.2 525.0,271.8 530.8,271.3 536.6,270.9 542.4,270.4" fill="none" stroke="#2e9e34" stroke-width="1.4"/>
<polyline points="310.0,285.5 315.8,285.8 321.6,285.9 327.4,286.0 333.2,286.1 339.1,286.2 344.9,286.3 350.7,286.3 356.5,286.4 362.3,286.4 368.1,286.5 373.9,286.5 379.7,286.6 385.5,286.6 391.3,286.7 397.1,286.7 403.0,286.8 408.8,286.8 414.6,286.8 420.4,286.9 426.2,286.9 432.0,286.9 437.8,287.0 443.6,287.0 449.4,287.0 455.2,287.1 461.1,287.1 466.9,287.1 472.7,287.2 478.5,287.2 484.3,287.2 490.1,287.3 495.9,287.3 501.7,287.3 507.5,287.3 513.3,287.4 519.2,287.4 525.0,287.4 530.8,287.4 536.6,287.5 542.4,287.5" fill="none" stroke="#333" stroke-width="1.0" stroke-dasharray="3,0.8,0.8,0.8"/>
<rect x="449.0" y="317.6" width="91.5" height="45.89999999999998" fill="white" fill-opacity="0.82" stroke="#e2e2e2" stroke-width="0.8" rx="1"/>
<text x="494.8" y="324.6" font-size="6.8" text-anchor="middle" fill="#222" font-family='"Liberation Sans", sans-serif' font-weight="normal" stroke="#222" stroke-width="0.16" textLength="85.3" lengthAdjust="spacingAndGlyphs" >Dose-Optimisation Approach</text>
<line x1="463" y1="330.9" x2="475.5" y2="330.9" stroke="#5c5cf8" stroke-width="1.3"/>
<text x="480.0" y="333.2" font-size="6.8" text-anchor="start" fill="#222" font-family='"Liberation Sans", sans-serif' font-weight="normal" stroke="#222" stroke-width="0.16" textLength="14.7" lengthAdjust="spacingAndGlyphs" >CoBe</text>
<line x1="463" y1="339.7" x2="475.5" y2="339.7" stroke="#ffb43c" stroke-width="1.3"/>
<text x="480.0" y="342.0" font-size="6.8" text-anchor="start" fill="#222" font-family='"Liberation Sans", sans-serif' font-weight="normal" stroke="#222" stroke-width="0.16" textLength="31.5" lengthAdjust="spacingAndGlyphs" >Parametric</text>
<line x1="463" y1="348.5" x2="475.5" y2="348.5" stroke="#2e9e34" stroke-width="1.3"/>
<text x="480.0" y="350.8" font-size="6.8" text-anchor="start" fill="#222" font-family='"Liberation Sans", sans-serif' font-weight="normal" stroke="#222" stroke-width="0.16" textLength="44.9" lengthAdjust="spacingAndGlyphs" >Adaptive Naive</text>
<line x1="463" y1="357.29999999999995" x2="475.5" y2="357.29999999999995" stroke="#333" stroke-width="1.1" stroke-dasharray="3.8,1.6,1,1.6"/>
<text x="480.0" y="359.6" font-size="6.8" text-anchor="start" fill="#222" font-family='"Liberation Sans", sans-serif' font-weight="normal" stroke="#222" stroke-width="0.16" textLength="42" lengthAdjust="spacingAndGlyphs" >Uniform Naive</text>
<rect x="309.25" y="365.90" width="1.5" height="1.5" fill="#111"/>
<text x="310.0" y="372.0" font-size="5.2" text-anchor="middle" fill="#2a2a2a" font-family='"Liberation Sans", sans-serif' font-weight="normal" stroke="#2a2a2a" stroke-width="0.26" >0</text>
<rect x="313.90" y="365.90" width="1.5" height="1.5" fill="#111"/>
<text x="314.6" y="372.0" font-size="5.2" text-anchor="middle" fill="#2a2a2a" font-family='"Liberation Sans", sans-serif' font-weight="normal" stroke="#2a2a2a" stroke-width="0.26" >6</text>
<rect x="332.49" y="365.90" width="1.5" height="1.5" fill="#111"/>
<text x="333.2" y="372.0" font-size="5.2" text-anchor="middle" fill="#2a2a2a" font-family='"Liberation Sans", sans-serif' font-weight="normal" stroke="#2a2a2a" stroke-width="0.26" >30</text>
<rect x="355.73" y="365.90" width="1.5" height="1.5" fill="#111"/>
<text x="356.5" y="372.0" font-size="5.2" text-anchor="middle" fill="#2a2a2a" font-family='"Liberation Sans", sans-serif' font-weight="normal" stroke="#2a2a2a" stroke-width="0.26" >60</text>
<rect x="378.97" y="365.90" width="1.5" height="1.5" fill="#111"/>
<text x="379.7" y="372.0" font-size="5.2" text-anchor="middle" fill="#2a2a2a" font-family='"Liberation Sans", sans-serif' font-weight="normal" stroke="#2a2a2a" stroke-width="0.26" >90</text>
<rect x="402.21" y="365.90" width="1.5" height="1.5" fill="#111"/>
<text x="403.0" y="372.0" font-size="5.2" text-anchor="middle" fill="#2a2a2a" font-family='"Liberation Sans", sans-serif' font-weight="normal" stroke="#2a2a2a" stroke-width="0.26" >120</text>
<rect x="425.45" y="365.90" width="1.5" height="1.5" fill="#111"/>
<text x="426.2" y="372.0" font-size="5.2" text-anchor="middle" fill="#2a2a2a" font-family='"Liberation Sans", sans-serif' font-weight="normal" stroke="#2a2a2a" stroke-width="0.26" >150</text>
<rect x="448.69" y="365.90" width="1.5" height="1.5" fill="#111"/>
<text x="449.4" y="372.0" font-size="5.2" text-anchor="middle" fill="#2a2a2a" font-family='"Liberation Sans", sans-serif' font-weight="normal" stroke="#2a2a2a" stroke-width="0.26" >180</text>
<rect x="471.93" y="365.90" width="1.5" height="1.5" fill="#111"/>
<text x="472.7" y="372.0" font-size="5.2" text-anchor="middle" fill="#2a2a2a" font-family='"Liberation Sans", sans-serif' font-weight="normal" stroke="#2a2a2a" stroke-width="0.26" >210</text>
<rect x="495.17" y="365.90" width="1.5" height="1.5" fill="#111"/>
<text x="495.9" y="372.0" font-size="5.2" text-anchor="middle" fill="#2a2a2a" font-family='"Liberation Sans", sans-serif' font-weight="normal" stroke="#2a2a2a" stroke-width="0.26" >240</text>
<rect x="518.41" y="365.90" width="1.5" height="1.5" fill="#111"/>
<text x="519.2" y="372.0" font-size="5.2" text-anchor="middle" fill="#2a2a2a" font-family='"Liberation Sans", sans-serif' font-weight="normal" stroke="#2a2a2a" stroke-width="0.26" >270</text>
<rect x="541.65" y="365.90" width="1.5" height="1.5" fill="#111"/>
<text x="542.4" y="372.0" font-size="5.2" text-anchor="middle" fill="#2a2a2a" font-family='"Liberation Sans", sans-serif' font-weight="normal" stroke="#2a2a2a" stroke-width="0.26" >300</text>
<rect x="308.40" y="231.95" width="1.5" height="1.5" fill="#111"/>
<text x="308.0" y="234.8" font-size="4.9" text-anchor="end" fill="#2a2a2a" font-family='"Liberation Sans", sans-serif' font-weight="normal" stroke="#2a2a2a" stroke-width="0.26" >100</text>
<rect x="308.40" y="258.35" width="1.5" height="1.5" fill="#111"/>
<text x="308.0" y="261.2" font-size="4.9" text-anchor="end" fill="#2a2a2a" font-family='"Liberation Sans", sans-serif' font-weight="normal" stroke="#2a2a2a" stroke-width="0.26" >50</text>
<rect x="308.40" y="284.75" width="1.5" height="1.5" fill="#111"/>
<text x="308.0" y="287.6" font-size="4.9" text-anchor="end" fill="#2a2a2a" font-family='"Liberation Sans", sans-serif' font-weight="normal" stroke="#2a2a2a" stroke-width="0.26" >0</text>
<rect x="308.40" y="311.15" width="1.5" height="1.5" fill="#111"/>
<text x="308.0" y="314.0" font-size="4.9" text-anchor="end" fill="#2a2a2a" font-family='"Liberation Sans", sans-serif' font-weight="normal" stroke="#2a2a2a" stroke-width="0.26" >−50</text>
<rect x="308.40" y="337.55" width="1.5" height="1.5" fill="#111"/>
<text x="308.0" y="340.4" font-size="4.9" text-anchor="end" fill="#2a2a2a" font-family='"Liberation Sans", sans-serif' font-weight="normal" stroke="#2a2a2a" stroke-width="0.26" >−100</text>
<rect x="308.40" y="363.95" width="1.5" height="1.5" fill="#111"/>
<text x="308.0" y="366.8" font-size="4.9" text-anchor="end" fill="#2a2a2a" font-family='"Liberation Sans", sans-serif' font-weight="normal" stroke="#2a2a2a" stroke-width="0.26" >−150</text>
<text x="426.5" y="222.5" font-size="8.0" text-anchor="middle" fill="#222" font-family='"Liberation Sans", sans-serif' font-weight="normal" stroke="#222" stroke-width="0.12" textLength="77.4" lengthAdjust="spacingAndGlyphs" >Objective 3, Scenario 6</text>
<text x="426.0" y="378.6" font-size="6.8" text-anchor="middle" fill="#222" font-family='"Liberation Sans", sans-serif' font-weight="normal" stroke="#222" stroke-width="0.18" textLength="84.5" lengthAdjust="spacingAndGlyphs" >Number Of Trial Participants</text>
<text x="0.0" y="0.0" font-size="6.8" text-anchor="middle" fill="#222" font-family='"Liberation Sans", sans-serif' font-weight="normal" stroke="#222" stroke-width="0.18" textLength="66" lengthAdjust="spacingAndGlyphs" transform="translate(294.6,292.0) rotate(-90)">Mean Cumulative Utility</text>
</svg>
</body></html>
